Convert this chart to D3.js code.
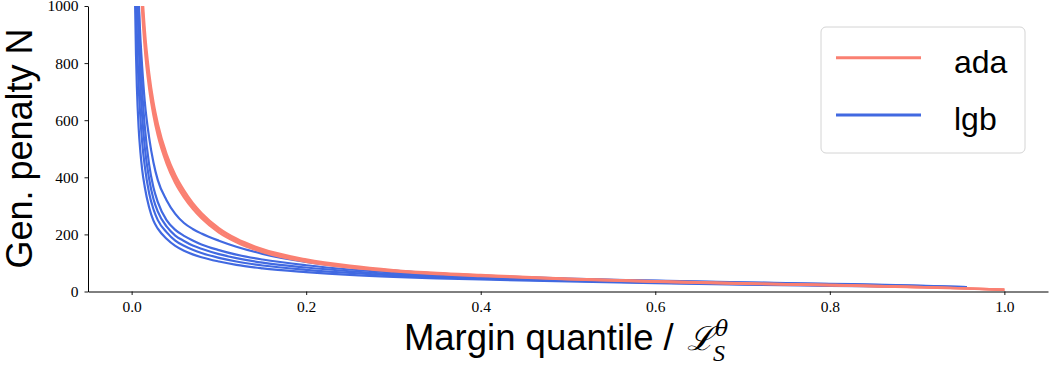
<!DOCTYPE html>
<html>
<head>
<meta charset="utf-8">
<script src="https://cdn.jsdelivr.net/npm/d3@7"></script>
<style>
  body { margin: 0; background: #fff; }
  svg { display: block; }
</style>
</head>
<body>
<svg id="chart" width="1050" height="366"></svg>
<script>
// ---- data ----
const Q = [0.004, 0.005, 0.006, 0.008, 0.01, 0.012, 0.015, 0.02, 0.025, 0.03, 0.04, 0.05, 0.06, 0.07, 0.08, 0.1, 0.12, 0.15, 0.2, 0.25, 0.3, 0.35, 0.4, 0.5, 0.6, 0.7, 0.8, 0.9, 0.957, 1.0];

const ada1 = [2250, 1920, 1700, 1375, 1170, 1025, 887, 740, 640, 567, 465, 394, 342, 300, 266, 215, 179, 143, 108, 87, 73, 63, 56, 44, 35, 28, 23, 16, 11, 6];
const ada2 = [2330, 1990, 1760, 1425, 1210, 1062, 918, 766, 662, 587, 481, 408, 354, 310, 275, 222, 185, 148, 112, 90, 75, 65, 58, 45, 36, 29, 23, 16, 11, 6];
const ada3 = [2170, 1850, 1640, 1327, 1130, 990, 856, 714, 618, 547, 449, 380, 330, 290, 257, 207, 173, 138, 104, 84, 71, 61, 54, 43, 34, 27, 22, 15, 10, 6];

const lgb1 = [1700, 1450, 1250, 1030, 890, 790, 667, 540, 452, 390, 320, 272, 240, 219, 203, 178, 157, 132, 104, 86, 73, 63, 56, 45, 38, 32, 27, 21, 15, null];
const lgb2 = [1000, 830, 717, 575, 490, 429, 367, 295, 248, 220, 185, 160, 143, 130, 120, 105, 93, 81, 68, 58, 51, 46, 42, 35, 29, 24, 20, 16, 13, null];
const lgb3 = [1250, 1040, 900, 725, 610, 525, 440, 345, 288, 250, 208, 178, 160, 146, 135, 118, 105, 91, 76, 65, 56, 50, 45, 38, 31, 26, 22, 17, 14, null];
const lgb4 = [1500, 1260, 1100, 875, 720, 617, 507, 395, 324, 280, 228, 196, 177, 161, 150, 131, 117, 101, 84, 71, 61, 54, 49, 40, 34, 29, 24, 19, 15, null];
const lgb5 = [1750, 1480, 1283, 1012, 830, 708, 580, 445, 364, 313, 250, 216, 195, 179, 165, 145, 129, 112, 92, 77, 66, 58, 52, 43, 37, 31, 26, 20, 15, null];

const seriesNames = ["ada", "lgb"];
const seriesColors = ["#FA8072", "#4169E1"];
const adaRuns = [ada1, ada2, ada3];
const lgbRuns = [lgb1, lgb2, lgb3, lgb4, lgb5];

const xTicks = [0.0, 0.2, 0.4, 0.6, 0.8, 1.0];
const yTicks = [0, 200, 400, 600, 800, 1000];

// ---- layout ----
const svg = d3.select("#chart");
const mLeft = 88, mRight = 1048, mTop = 6, mBottom = 291.5;

const x = d3.scaleLinear().domain([-0.05, 1.05]).range([mLeft, mRight]);
const y = d3.scaleLinear().domain([0, 1000]).range([mBottom, mTop]);

svg.append("defs").append("clipPath").attr("id", "plotclip")
  .append("rect").attr("x", mLeft).attr("y", mTop)
  .attr("width", mRight - mLeft).attr("height", mBottom - mTop);

const line = d3.line()
  .defined(d => d[1] !== null)
  .x(d => x(d[0]))
  .y(d => y(d[1]))
  .curve(d3.curveMonotoneX);

const plot = svg.append("g").attr("clip-path", "url(#plotclip)");

lgbRuns.forEach(run => {
  plot.append("path")
    .attr("d", line(Q.map((q, i) => [q, run[i]])))
    .attr("fill", "none")
    .attr("stroke", seriesColors[1])
    .attr("stroke-width", 2.2)
    .attr("stroke-linejoin", "round");
});
adaRuns.forEach(run => {
  plot.append("path")
    .attr("d", line(Q.map((q, i) => [q, run[i]])))
    .attr("fill", "none")
    .attr("stroke", seriesColors[0])
    .attr("stroke-width", 2.4)
    .attr("stroke-linejoin", "round");
});

// ---- axes ----
const tickFont = "'Liberation Serif', 'DejaVu Serif', serif";

const yAxis = svg.append("g")
  .attr("transform", `translate(${mLeft},0)`)
  .call(d3.axisLeft(y).tickValues(yTicks).tickSize(3.5).tickSizeOuter(0).tickPadding(6).tickFormat(d3.format("d")));
const xAxis = svg.append("g")
  .attr("transform", `translate(0,${mBottom})`)
  .call(d3.axisBottom(x).tickValues(xTicks).tickSize(3.5).tickSizeOuter(0).tickPadding(6).tickFormat(d3.format(".1f")));

[xAxis, yAxis].forEach(g => {
  g.selectAll("path.domain").attr("stroke", "#000").attr("stroke-width", 1);
  g.selectAll(".tick line").attr("stroke", "#000").attr("stroke-width", 0.9);
  g.selectAll(".tick text").attr("fill", "#000")
    .style("font-family", tickFont).style("font-size", "15.5px");
});

// ---- axis labels ----
const sansFont = "'Liberation Sans', Arial, sans-serif";

svg.append("text")
  .attr("transform", `translate(32,148.5) rotate(-90)`)
  .attr("text-anchor", "middle")
  .style("font-family", sansFont)
  .style("font-size", "36px")
  .attr("fill", "#000")
  .text("Gen. penalty N");

const xl = svg.append("g");
const xlMain = xl.append("text")
  .attr("x", 0).attr("y", 350)
  .style("font-family", sansFont).style("font-size", "36.5px").attr("fill", "#000")
  .text("Margin quantile /\u00A0");
const mainW = xlMain.node().getComputedTextLength();
const calL = xl.append("text")
  .attr("x", mainW + 3).attr("y", 350)
  .style("font-family", "'DejaVu Serif', serif").style("font-style", "italic")
  .style("font-size", "33px").attr("fill", "#000")
  .text("\u2112");
const calW = calL.node().getComputedTextLength();
const supT = xl.append("text")
  .attr("x", mainW + 3 + calW + 1).attr("y", 336)
  .style("font-family", "'DejaVu Serif', serif").style("font-style", "italic")
  .style("font-size", "22px").attr("fill", "#000")
  .text("\u03B8");
const subT = xl.append("text")
  .attr("x", mainW + 3 + calW - 1).attr("y", 361)
  .style("font-family", "'Liberation Serif', serif").style("font-style", "italic")
  .style("font-size", "24px").attr("fill", "#000")
  .text("S");
const totalW = mainW + 3 + calW + Math.max(supT.node().getComputedTextLength() + 1, subT.node().getComputedTextLength() - 1);
xl.attr("transform", `translate(${566 - totalW / 2},0)`);

// ---- legend ----
const legend = svg.append("g");
legend.append("rect")
  .attr("x", 821).attr("y", 27).attr("width", 204).attr("height", 126)
  .attr("rx", 5).attr("fill", "#fff").attr("stroke", "#d4d4d4").attr("stroke-width", 1);
const legendY = [57.7, 115];
seriesNames.forEach((name, i) => {
  legend.append("line")
    .attr("x1", 836).attr("x2", 921)
    .attr("y1", legendY[i]).attr("y2", legendY[i])
    .attr("stroke", seriesColors[i]).attr("stroke-width", 3);
  legend.append("text")
    .attr("x", 954).attr("y", legendY[i] + 15)
    .style("font-family", sansFont).style("font-size", "32px").attr("fill", "#000")
    .text(name);
});
</script>
</body>
</html>
